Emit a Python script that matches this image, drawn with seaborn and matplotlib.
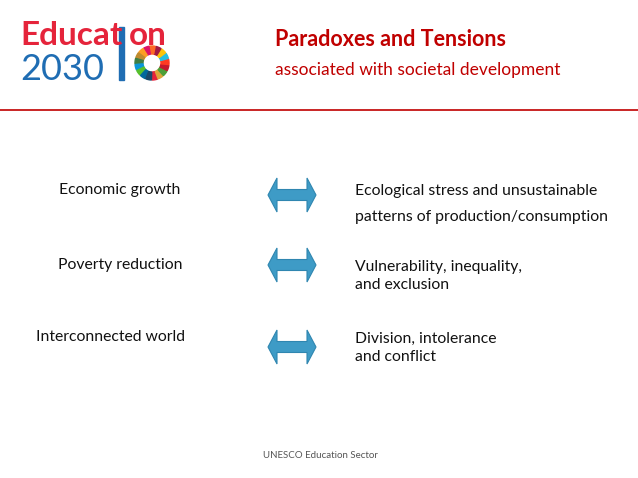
import matplotlib
matplotlib.use("Agg")
import matplotlib.pyplot as plt
import matplotlib.patches as mpatches
import seaborn as sns

# slide content
title = "Paradoxes and Tensions"
subtitle = "associated with societal development"
left_items = ["Economic growth", "Poverty reduction", "Interconnected world"]
right_items = ["Ecological stress and unsustainable\npatterns of production/consumption",
               "Vulnerability, inequality,\nand exclusion",
               "Division, intolerance\nand conflict"]
footer = "UNESCO Education Sector"
sdg_colors = ["#E5243B", "#DDA63A", "#4C9F38", "#C5192D", "#FF3A21", "#26BDE2",
              "#FCC30B", "#A21942", "#FD6925", "#DD1367", "#FD9D24", "#BF8B2E",
              "#3F7E44", "#0A97D9", "#56C02B", "#00689D", "#19486A"]

sns.set_theme(style="white")
plt.rcParams["font.family"] = ["Lato", "DejaVu Sans"]

fig = plt.figure(figsize=(6.38, 4.78), dpi=100)
ax = fig.add_axes([0, 0, 1, 1])
ax.set_xlim(0, 638)
ax.set_ylim(478, 0)
ax.axis("off")

# logo
ax.text(20, 45, "Educat", color="#E5243B", fontsize=24, fontweight="bold", va="baseline")
ax.text(129, 45, "on", color="#E5243B", fontsize=24, fontweight="bold", va="baseline")
ax.text(20, 80, "2030", color="#1F6DB3", fontsize=26, va="baseline")
ax.add_patch(mpatches.Rectangle((119, 27), 5, 53, color="#1F6DB3"))
n = len(sdg_colors)
for i, c in enumerate(sdg_colors):
    ax.add_patch(mpatches.Wedge((152, 63), 17, 90 - (i + 1) * 360 / n + 2, 90 - i * 360 / n,
                                width=8, color=c))

ax.text(275, 46, title, color="#C00000", fontsize=15.5, fontweight="bold")
ax.text(275, 75, subtitle, color="#C00000", fontsize=12.5)
ax.plot([0, 638], [110, 110], color="#C00000", lw=1.2)

left_x = [120, 120, 111]
left_y = [190, 265, 337]
arrow_y = [195, 265, 347]
right_y = [204, 276, 348]
spacing = [2.0, 1.45, 1.45]

def double_arrow(cx, cy):
    w, h, hw, body = 24, 17, 9, 5.5
    pts = [(cx - w, cy), (cx - w + hw, cy - h), (cx - w + hw, cy - body),
           (cx + w - hw, cy - body), (cx + w - hw, cy - h), (cx + w, cy),
           (cx + w - hw, cy + h), (cx + w - hw, cy + body), (cx - w + hw, cy + body),
           (cx - w + hw, cy + h)]
    ax.add_patch(mpatches.Polygon(pts, closed=True, facecolor="#3E9BC6",
                                  edgecolor="#2F86B0", lw=0.8))

for lx, ly, ay, ry, lt, rt, sp in zip(left_x, left_y, arrow_y, right_y,
                                      left_items, right_items, spacing):
    ax.text(lx, ly, lt, fontsize=11.3, ha="center", va="center", color="#111111")
    double_arrow(292, ay)
    ax.text(355, ry, rt, fontsize=11.3, ha="left", va="center", color="#111111",
            linespacing=sp)

ax.text(320, 455, footer, fontsize=7, ha="center", va="center", color="#555555")

fig.savefig("out.png", dpi=100)
